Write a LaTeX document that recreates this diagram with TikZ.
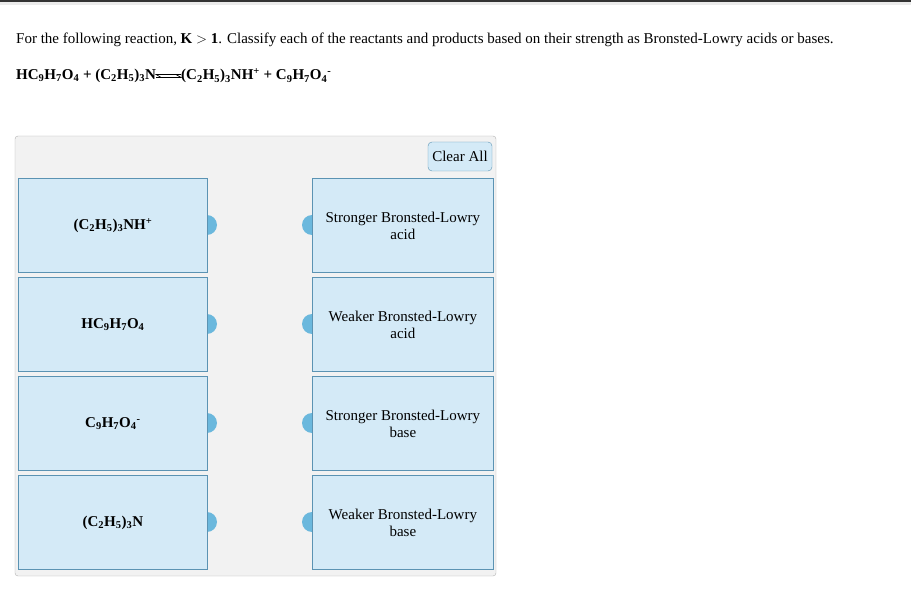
\documentclass[tikz,border=0pt]{standalone}
\usepackage{fontspec}
\setmainfont{Liberation Serif}
\definecolor{boxf}{HTML}{D4EAF7}
\definecolor{boxd}{HTML}{5B93B3}
\definecolor{tabc}{HTML}{6BB8DD}
\begin{document}
\begin{tikzpicture}[x=1pt,y=-1pt,
 box/.style={draw=boxd,fill=boxf,line width=0.8pt,minimum width=#1,minimum height=94pt,anchor=north west,inner sep=0pt,align=center,font=\fontsize{15}{17}\selectfont},
 txt/.style={anchor=west,inner sep=0pt,font=\fontsize{15}{17}\selectfont}]
\useasboundingbox (0,0) rectangle (911,596);
\fill[black!80] (0,0) rectangle (911,2.5);
\fill[black!8] (0,2.5) rectangle (911,5);
\node[txt] (q) at (16,40) {For the following reaction, \textbf{K} $>$ \textbf{1}. Classify each of the reactants and products based on their strength as Bronsted-Lowry acids or bases.};
\node[txt,font=\fontsize{15}{17}\selectfont\bfseries] (r) at (16,76) {HC\textsubscript{9}H\textsubscript{7}O\textsubscript{4} + (C\textsubscript{2}H\textsubscript{5})\textsubscript{3}N};
\node[txt,font=\fontsize{15}{17}\selectfont\bfseries] (p) at (181,76) {(C\textsubscript{2}H\textsubscript{5})\textsubscript{3}NH\textsuperscript{+} + C\textsubscript{9}H\textsubscript{7}O\textsubscript{4}\textsuperscript{-}};
\coordinate (a1) at ([yshift=-1.5]r.east);
\coordinate (a2) at ([yshift=-1.5]p.west);
\draw[line width=0.7pt] (a1) -- (a2) -- ++(-5,-3);
\draw[line width=0.7pt] ([yshift=3]a2) -- ([yshift=3]a1) -- ++(5,3);
\draw[rounded corners=3pt,draw=black!30,fill=black!5] (15,136) rectangle (496,576);
\node[draw=boxd,fill=boxf,rounded corners=4pt,minimum width=64pt,minimum height=29pt,font=\fontsize{15}{17}\selectfont,inner sep=0pt] (clr) at (460,156.5) {Clear All};
\foreach \i/\l/\r in {0/{(C\textsubscript{2}H\textsubscript{5})\textsubscript{3}NH\textsuperscript{+}}/{Stronger Bronsted-Lowry\\acid},
 1/{HC\textsubscript{9}H\textsubscript{7}O\textsubscript{4}}/{Weaker Bronsted-Lowry\\acid},
 2/{C\textsubscript{9}H\textsubscript{7}O\textsubscript{4}\textsuperscript{-}}/{Stronger Bronsted-Lowry\\base},
 3/{(C\textsubscript{2}H\textsubscript{5})\textsubscript{3}N}/{Weaker Bronsted-Lowry\\base}}{
  \pgfmathsetmacro\yy{178+99*\i}
  \begin{scope}\clip (207,\yy) rectangle (230,\yy+94);
   \fill[tabc] (207,\yy+47) circle (10);\end{scope}
  \begin{scope}\clip (290,\yy) rectangle (312,\yy+94);
   \fill[tabc] (312,\yy+47) circle (10);\end{scope}
  \node[box=189pt,font=\fontsize{15}{17}\selectfont\bfseries] (L\i) at (18,\yy) {\l};
  \node[box=181pt] (R\i) at (312,\yy) {\r};
}
\end{tikzpicture}
\end{document}
